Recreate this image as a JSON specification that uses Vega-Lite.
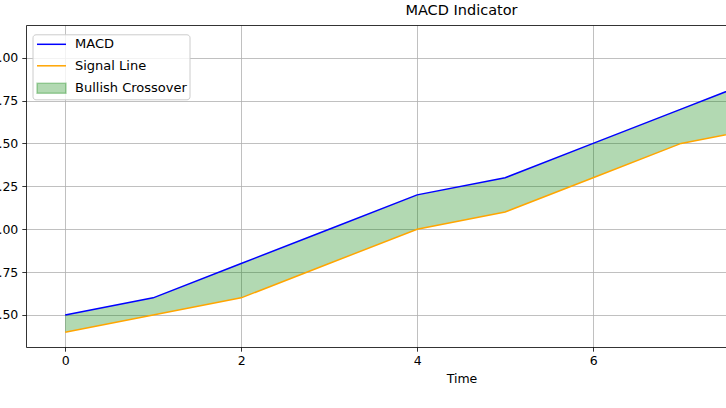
{
  "$schema": "https://vega.github.io/schema/vega-lite/v6.json",
  "autosize": {"type": "none"},
  "width": 700,
  "height": 322,
  "padding": {"left": 26, "top": 25, "right": 0, "bottom": 61},
  "background": "white",
  "config": {
    "font": "DejaVu Sans",
    "view": {"stroke": null},
    "legend": {
      "title": null, "orient": "none", "legendX": 6.5, "legendY": 9.3,
      "fillColor": "rgba(255,255,255,0.8)", "strokeColor": "#cccccc", "cornerRadius": 3, "padding": 2.5,
      "labelFontSize": 13, "labelColor": "black", "labelFont": "DejaVu Sans",
      "symbolSize": 169, "symbolOffset": 9, "labelOffset": 16, "rowPadding": 6.5
    }
  },
  "title": {"text": "MACD Indicator", "fontSize": 14.5, "fontWeight": "normal", "color": "black", "anchor": "middle", "dx": 85.5, "offset": 7},
  "data": {"values": [
    {"Time": 0, "MACD": 0.5, "Signal Line": 0.4},
    {"Time": 1, "MACD": 0.6, "Signal Line": 0.5},
    {"Time": 2, "MACD": 0.8, "Signal Line": 0.6},
    {"Time": 3, "MACD": 1.0, "Signal Line": 0.8},
    {"Time": 4, "MACD": 1.2, "Signal Line": 1.0},
    {"Time": 5, "MACD": 1.3, "Signal Line": 1.1},
    {"Time": 6, "MACD": 1.5, "Signal Line": 1.3},
    {"Time": 7, "MACD": 1.7, "Signal Line": 1.5},
    {"Time": 8, "MACD": 1.9, "Signal Line": 1.6}
  ]},
  "layer": [
    {
      "mark": {"type": "area", "clip": true, "opacity": 0.3},
      "encoding": {
        "x": {"field": "Time", "type": "quantitative",
          "scale": {"domain": [-0.445, 7.51], "nice": false, "zero": false},
          "axis": {"values": [0, 2, 4, 6], "format": "d", "title": "Time", "titleX": 435.5, "titleAlign": "center",
            "titleFontSize": 12.5, "titleFontWeight": "normal", "titleColor": "black", "titlePadding": 5,
            "labelFontSize": 12.5, "labelColor": "black", "labelPadding": 3.5, "labelFlush": false,
            "tickSize": 4.2, "tickColor": "black", "tickWidth": 0.8,
            "domainColor": "black", "domainWidth": 0.8,
            "grid": true, "gridColor": "#b0b0b0", "gridWidth": 0.8}},
        "y": {"field": "MACD", "type": "quantitative",
          "scale": {"domain": [0.3135, 2.19], "nice": false, "zero": false},
          "axis": {"values": [0.5, 0.75, 1, 1.25, 1.5, 1.75, 2], "format": ".2f", "title": null,
            "labelFontSize": 12.5, "labelColor": "black", "labelPadding": 4,
            "tickSize": 4.2, "tickColor": "black", "tickWidth": 0.8,
            "domainColor": "black", "domainWidth": 0.8,
            "grid": true, "gridColor": "#b0b0b0", "gridWidth": 0.8}},
        "y2": {"field": "Signal Line"},
        "color": {"datum": "Bullish Crossover", "type": "nominal",
          "scale": {"domain": ["MACD", "Signal Line", "Bullish Crossover"], "range": ["blue", "orange", "green"]},
          "legend": {
            "title": null,
            "encode": {"symbols": {"update": {
              "shape": {"signal": "datum.value === 'Bullish Crossover' ? 'M-2.23,-0.77H2.23V0.77H-2.23Z' : 'M-2.23,0H2.23'"},
              "fill": {"signal": "datum.value === 'Bullish Crossover' ? '#b3d9b3' : 'transparent'"},
              "fillOpacity": {"signal": "datum.value === 'Bullish Crossover' ? 0.3 : 0"},
              "stroke": {"signal": "datum.value === 'MACD' ? 'blue' : datum.value === 'Signal Line' ? 'orange' : 'green'"},
              "strokeOpacity": {"signal": "datum.value === 'Bullish Crossover' ? 0.3 : 1"},
              "strokeWidth": {"value": 1.5},
              "opacity": {"value": 1}
            }}}
          }}
      }
    },
    {
      "transform": [{"fold": ["MACD", "Signal Line"], "as": ["Series", "Value"]}],
      "mark": {"type": "line", "clip": true, "strokeWidth": 1.5},
      "encoding": {
        "x": {"field": "Time", "type": "quantitative",
          "axis": {"orient": "top", "labels": false, "ticks": false, "grid": false, "title": null, "domainColor": "black", "domainWidth": 0.8}},
        "y": {"field": "Value", "type": "quantitative"},
        "color": {"field": "Series", "type": "nominal",
          "legend": {
            "title": null,
            "encode": {"symbols": {"update": {
              "shape": {"signal": "datum.value === 'Bullish Crossover' ? 'M-2.23,-0.77H2.23V0.77H-2.23Z' : 'M-2.23,0H2.23'"},
              "fill": {"signal": "datum.value === 'Bullish Crossover' ? '#b3d9b3' : 'transparent'"},
              "fillOpacity": {"signal": "datum.value === 'Bullish Crossover' ? 0.3 : 0"},
              "stroke": {"signal": "datum.value === 'MACD' ? 'blue' : datum.value === 'Signal Line' ? 'orange' : 'green'"},
              "strokeOpacity": {"signal": "datum.value === 'Bullish Crossover' ? 0.3 : 1"},
              "strokeWidth": {"value": 1.5},
              "opacity": {"value": 1}
            }}}
          }}
      }
    }
  ],
  "resolve": {"axis": {"x": "independent"}}
}
